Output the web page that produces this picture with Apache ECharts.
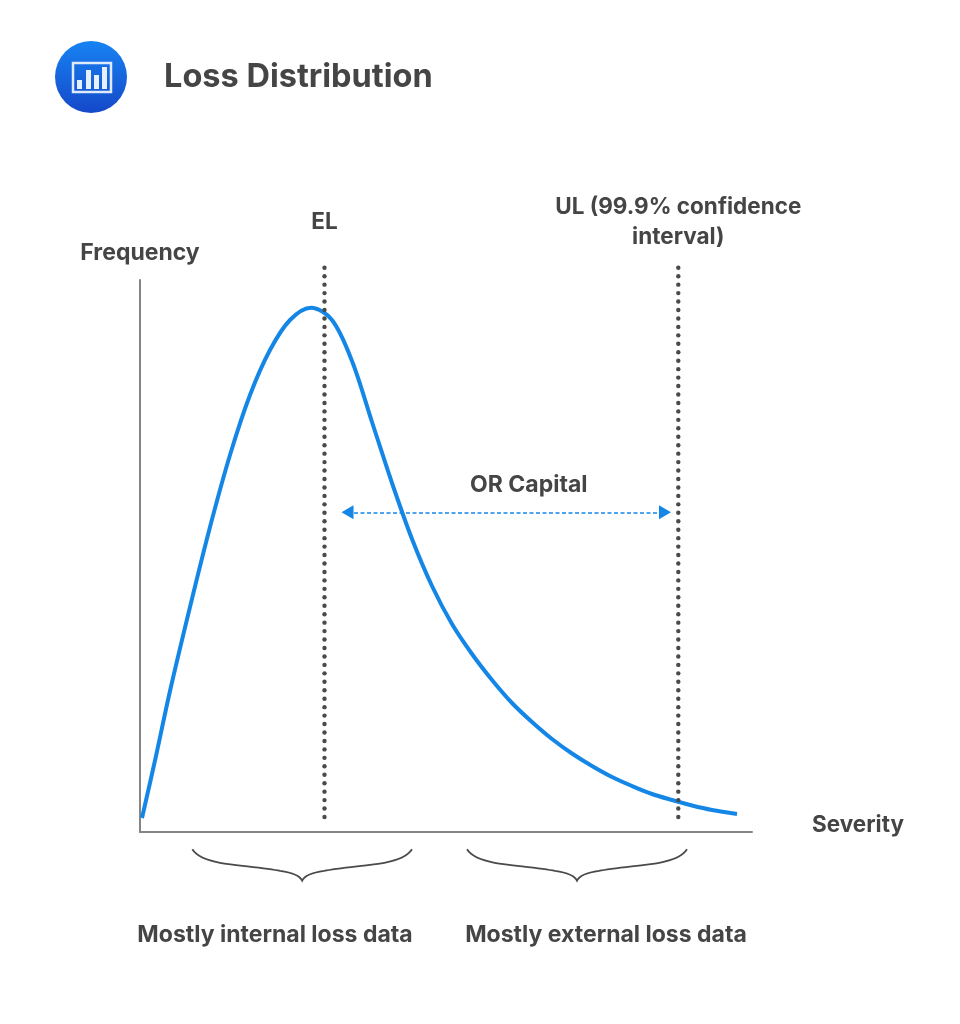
<!DOCTYPE html>
<html>
<head>
<meta charset="utf-8">
<title>Loss Distribution</title>
<style>
  html, body { margin: 0; padding: 0; background: #fff; }
  #chart { width: 960px; height: 1024px; }
</style>
<script src="https://cdn.jsdelivr.net/npm/echarts@6/dist/echarts.min.js"></script>
</head>
<body>
<div id="chart"></div>
<script>
// values are read off the picture, in plain axis units (no scale is printed on the original)
const severity = [2, 16, 30, 50, 70, 90, 110, 130, 150, 171, 192, 212, 232, 252, 272, 292, 312, 332, 352, 372, 392, 412, 432, 452, 472, 492, 512, 532, 552, 572, 597];
const frequency = [14, 76, 141, 225, 305, 377, 437, 482, 512, 524.3, 512, 471, 410, 349, 293, 246, 208, 178, 152, 129, 110, 93, 78.5, 66, 55, 46, 38, 32, 26.5, 22, 18];

// dotted markers: EL and UL
const markerX = [184.5, 538.3];
const markerBottom = 15;
const markerTop = 564.3;
const markerStep = 8.45;
const markerLabelY = 610;
const markerLabels = ['EL', 'UL (99.9% confidence\ninterval)'];

// OR Capital arrow
const capitalFrom = 207.5;
const capitalTo = 525;
const capitalLevel = 319.7;

// braces under the axis
const braceStart = [52.3, 327];
const braceEnd = [272, 547];
const braceLabelX = [135, 466];
const braceLabels = ['Mostly internal loss data', 'Mostly external loss data'];
const braceTop = -17.3;
const braceTip = -48.7;
const braceLabelY = -103;

const FONT = 'Inter';
const TEXT = '#454545';
const BLUE = '#1487e6';

const myChart = echarts.init(document.getElementById('chart'), null, { renderer: 'canvas' });

function renderMarker(params, api) {
  const x = api.value(0);
  const label = api.coord([x, markerLabelY]);
  const children = [{
    type: 'text',
    style: { x: label[0], y: label[1], text: markerLabels[params.dataIndex], fill: TEXT, font: '700 22.5px ' + FONT, lineHeight: 30, align: 'center', verticalAlign: 'middle' }
  }];
  // one round dot per step, the dash pattern came out too tight
  for (let y = markerBottom; y <= markerTop; y += markerStep) {
    const c = api.coord([x, y]);
    children.push({ type: 'circle', shape: { cx: c[0], cy: c[1], r: 2.2 }, style: { fill: '#4a4a4a' } });
  }
  return { type: 'group', children };
}

function renderBrace(params, api) {
  const x0 = api.value(0), w = api.value(1) - x0, h = braceTop - braceTip;
  const left = (fx, fy) => api.coord([x0 + w * fx, braceTop - h * fy]);
  const right = (fx, fy) => left(1 - fx, fy);
  const seg = (p, a, b, c, d, e, f) => 'C' + [p(a, b), p(c, d), p(e, f)].map(q => q.join(' ')).join(' ');
  const path = 'M' + left(0, 0).join(' ')
    + seg(left, 0.02, 0.22, 0.07, 0.36, 0.126, 0.43)
    + seg(left, 0.2, 0.52, 0.33, 0.59, 0.4, 0.69)
    + seg(left, 0.45, 0.74, 0.49, 0.85, 0.5, 1)
    + seg(right, 0.49, 0.85, 0.45, 0.74, 0.4, 0.69)
    + seg(right, 0.33, 0.59, 0.2, 0.52, 0.126, 0.43)
    + seg(right, 0.07, 0.36, 0.02, 0.22, 0, 0);
  const label = api.coord([api.value(2), braceLabelY]);
  return {
    type: 'group',
    children: [
      { type: 'path', shape: { pathData: path }, style: { fill: 'none', stroke: '#4a4a4a', lineWidth: 1.8 } },
      { type: 'text', style: { x: label[0], y: label[1], text: braceLabels[params.dataIndex], fill: TEXT, font: '700 23px ' + FONT, align: 'center', verticalAlign: 'middle' } }
    ]
  };
}

myChart.setOption({
  animation: false,
  backgroundColor: '#fff',
  title: {
    text: 'Loss Distribution',
    left: 159,
    top: 56,
    textStyle: { fontFamily: FONT, fontWeight: 700, fontSize: 32.5, color: TEXT }
  },
  grid: { left: 140, top: 280, width: 612, height: 552 },
  xAxis: {
    type: 'value', min: 0, max: 612,
    name: 'Severity', nameLocation: 'end', nameGap: 60,
    nameTextStyle: { fontFamily: FONT, fontWeight: 700, fontSize: 22.5, color: TEXT, align: 'left', verticalAlign: 'bottom', lineHeight: 14 },
    axisLine: { show: true, lineStyle: { color: '#858585', width: 2 } },
    axisTick: { show: false }, axisLabel: { show: false }, splitLine: { show: false }
  },
  yAxis: {
    type: 'value', min: 0, max: 552,
    name: 'Frequency', nameLocation: 'end', nameGap: 15,
    nameTextStyle: { fontFamily: FONT, fontWeight: 700, fontSize: 23, color: TEXT, align: 'center' },
    axisLine: { show: true, lineStyle: { color: '#858585', width: 2 } },
    axisTick: { show: false }, axisLabel: { show: false }, splitLine: { show: false }
  },
  series: [
    {
      type: 'line',
      data: severity.map((x, i) => [x, frequency[i]]),
      smooth: 0.33,
      symbol: 'none',
      z: 3,
      lineStyle: { color: BLUE, width: 4 },
      markLine: {
        silent: true,
        symbol: ['triangle', 'triangle'],
        symbolSize: [14, 12],
        precision: 2,
        lineStyle: { color: BLUE, width: 1.5, type: [4, 2.5] },
        label: { show: true, position: 'middle', distance: 18, offset: [22.5, 2], formatter: 'OR Capital', fontFamily: FONT, fontWeight: 700, fontSize: 23, color: TEXT },
        data: [[{ coord: [capitalFrom, capitalLevel] }, { coord: [capitalTo, capitalLevel] }]]
      }
    },
    {
      type: 'custom',
      coordinateSystem: 'cartesian2d',
      clip: false,
      silent: true,
      z: 4,
      data: markerX.map(x => [x]),
      encode: { x: 0 },
      renderItem: renderMarker
    },
    {
      type: 'custom',
      coordinateSystem: 'cartesian2d',
      clip: false,
      silent: true,
      data: braceStart.map((s, i) => [s, braceEnd[i], braceLabelX[i]]),
      encode: { x: [0, 1, 2] },
      renderItem: renderBrace
    }
  ],
  // the round badge next to the title
  graphic: [
    {
      type: 'circle', shape: { cx: 91, cy: 77, r: 36 },
      style: { fill: new echarts.graphic.LinearGradient(0, 0, 0, 1, [{ offset: 0, color: '#1783f2' }, { offset: 1, color: '#1548c9' }]) }
    },
    { type: 'rect', shape: { x: 73, y: 63, width: 38, height: 29 }, style: { fill: 'none', stroke: '#dfeafc', lineWidth: 2.5 } },
    { type: 'rect', shape: { x: 77, y: 80, width: 5, height: 9 }, style: { fill: '#e6effd' } },
    { type: 'rect', shape: { x: 86, y: 70, width: 5, height: 19 }, style: { fill: '#e6effd' } },
    { type: 'rect', shape: { x: 94, y: 75, width: 5, height: 14 }, style: { fill: '#e6effd' } },
    { type: 'rect', shape: { x: 102, y: 67, width: 5, height: 22 }, style: { fill: '#e6effd' } }
  ]
});
</script>
</body>
</html>
